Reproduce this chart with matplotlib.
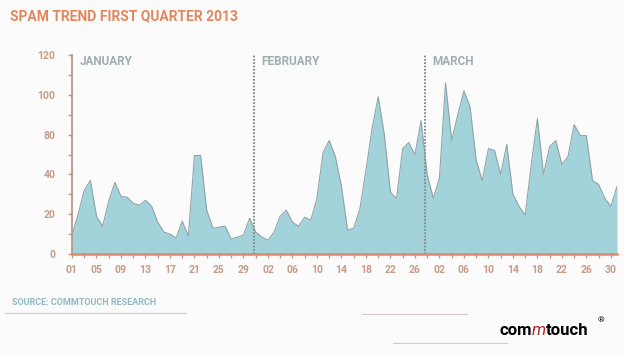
import matplotlib.pyplot as plt
import numpy as np

# --------------------------
# Data
# --------------------------
jan = [9.5, 20, 32, 37, 19, 14, 26.5, 36, 29, 28.5, 25.5, 24.5, 27, 24, 16, 11,
       10, 8, 16.5, 9, 49.5, 49.5, 22, 13, 13.5, 14, 7.5, 8.5, 9.5, 18, 11]
feb = [8.5, 7, 11, 19, 22, 16, 14, 18.5, 17, 28, 51, 57, 49, 34, 12, 13, 22.5,
       42, 63, 79, 60, 31, 28, 53, 56, 50, 67, 40]
mar = [28, 38, 86, 57, 70, 82, 74, 47, 37, 53, 52, 40, 55, 30, 24, 19.5, 45,
       68, 40, 54, 57, 45, 49, 65, 59.5, 59.5, 37, 35, 28, 24, 34]

spam = jan + feb + mar
days = np.arange(1, len(spam) + 1)

tick_days = list(range(1, 90, 4))
tick_labels = ["01", "05", "09", "13", "17", "21", "25", "29",
               "02", "06", "10", "14", "18", "22", "26",
               "02", "06", "10", "14", "18", "22", "26", "30"]

y_ticks = [0, 20, 40, 60, 80, 100]
y_labels = ["0", "20", "40", "80", "100", "120"]

months = ["JANUARY", "FEBRUARY", "MARCH"]
month_starts = [1, 30.7, 58.7]

# --------------------------
# Plot
# --------------------------
narrow = ["Roboto", "DejaVu Sans"]
tan = "#c99a86"

fig = plt.figure(figsize=(6.25, 3.57), dpi=100, facecolor="#fbfbfb")
ax = fig.add_axes([0.1152, 0.2885, 0.8720, 0.5574])
ax.set_facecolor("none")

ax.fill_between(days, spam, color="#a3d3da", lw=0)
ax.plot(days, spam, color="#8fa5aa", lw=0.8)

for m, x in zip(months, month_starts):
    if x > 1:
        ax.axvline(x, color="#8a8a8a", lw=1.5, ls=(0, (0.8, 0.8)), zorder=3)
    ax.text(x + 1.2, 96.5, m, color="#9eaeb2", fontsize=8.5, fontweight="bold",
            family=narrow, va="center", ha="left")

ax.set_xlim(1, 90)
ax.set_ylim(0, 100)

ax.set_xticks(tick_days)
ax.set_xticklabels(tick_labels)
ax.set_xticks(range(1, 91, 2), minor=True)
ax.set_yticks(y_ticks)
ax.set_yticklabels(y_labels)
ax.set_yticks(range(10, 100, 20), minor=True)

for s in ["top", "right"]:
    ax.spines[s].set_visible(False)
ax.spines["left"].set_color("#b58f80")
ax.spines["left"].set_linewidth(1.2)
ax.spines["bottom"].set_color("#d98a6c")
ax.spines["bottom"].set_linewidth(1.8)
ax.spines["bottom"].set_zorder(4)

ax.tick_params(axis="both", which="both", colors=tan, length=3, width=1)
ax.tick_params(axis="x", which="major", pad=5, labelsize=7.5)
ax.tick_params(axis="y", which="major", pad=9, labelsize=7.5)
for lab in ax.get_xticklabels() + ax.get_yticklabels():
    lab.set_fontweight("bold")
    lab.set_family(narrow)

fig.text(0.016, 0.955, "SPAM TREND FIRST QUARTER 2013", color="#e2865e",
         fontsize=10, fontweight="bold", family=narrow, va="center")
fig.text(0.019, 0.154, "SOURCE: COMMTOUCH RESEARCH", color="#8fbac1",
         fontsize=6.5, fontweight="bold", family=narrow, va="center")

# decorative rules
fig.add_artist(plt.Line2D([0.008, 0.297], [0.123, 0.123], color="#dcc6c6", lw=0.8))
fig.add_artist(plt.Line2D([0.579, 0.747], [0.120, 0.120], color="#dcc6c6", lw=0.8))
fig.add_artist(plt.Line2D([0.629, 0.811], [0.039, 0.039], color="#dcc6c6", lw=0.8))

# logo
fig.text(0.851, 0.073, "com", color="black", fontsize=12, fontweight="bold",
         family=narrow, va="center", ha="right")
fig.text(0.862, 0.073, "m", color="#b5252b", fontsize=12, style="italic",
         family=narrow, va="center", ha="center")
fig.text(0.873, 0.073, "touch", color="black", fontsize=12, fontweight="bold",
         family=narrow, va="center", ha="left")
fig.text(0.957, 0.102, "®", color="black", fontsize=6, family=narrow, va="center")

fig.savefig("out.png", dpi=100, facecolor=fig.get_facecolor())
